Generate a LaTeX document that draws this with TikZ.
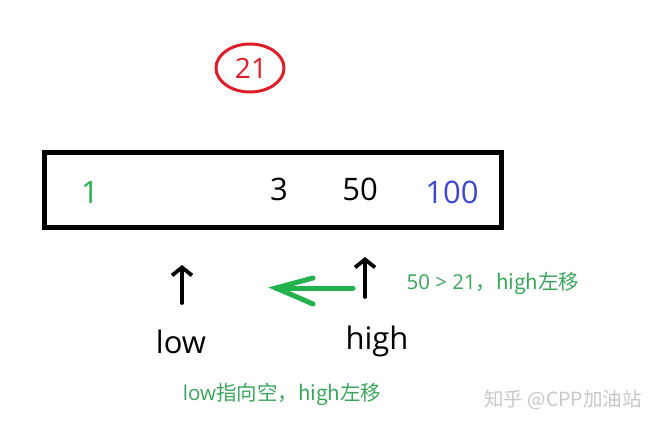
\documentclass[tikz,border=0pt]{standalone}
\usepackage{fontspec}
\setmainfont{Open Sans}
\newfontfamily\cjk{Noto Sans CJK SC}
\usetikzlibrary{arrows.meta,shapes.geometric}
\definecolor{boxgreen}{RGB}{34,177,76}
\definecolor{txtgreen}{RGB}{58,166,90}
\definecolor{myblue}{RGB}{63,72,204}
\definecolor{myred}{RGB}{222,30,40}
\definecolor{wmgray}{RGB}{200,200,200}
\begin{document}
\begin{tikzpicture}[x=1pt,y=-1pt,
  num/.style={font=\fontsize{31}{32}\selectfont, inner sep=0pt},
  lbl/.style={font=\fontsize{31}{32}\selectfont, inner sep=0pt},
  note/.style={font=\fontsize{20.5}{22}\selectfont, text=txtgreen, inner sep=0pt},
  ptr/.style={line width=3.8pt, line cap=round, -{Straight Barb[length=8pt,width=20pt,line width=3.8pt]}},
  move/.style={line width=5pt, line cap=round, draw=boxgreen}]
\useasboundingbox (0,0) rectangle (659,428);
\fill[white] (0,0) rectangle (659,428);
% array box
\node[draw, line width=5pt, minimum width=457pt, minimum height=75pt, inner sep=0pt] (arr) at (272.5,189.5) {};
\node[num, text=boxgreen] (n1) at (90,192) {1};
\node[num] (n3) at (279,189) {3};
\node[num] (n50) at (360,189) {50};
\node[num, text=myblue] (n100) at (452,192) {100};
% target
\node[draw=myred, line width=3pt, ellipse, minimum width=68pt, minimum height=48pt, inner sep=0pt] (tgt) at (250,68) {};
\node[font=\fontsize{28}{29}\selectfont, text=myred, inner sep=0pt] (t21) at (251,68) {21};
% pointers
\coordinate (lowB) at (182,303);
\coordinate (lowT) at (182,265);
\coordinate (highB) at (365,297);
\coordinate (highT) at (365,257);
\draw[ptr] (lowB) -- (lowT);
\draw[ptr] (highB) -- (highT);
\node[lbl] (low) at (181,342) {low};
\node[lbl] (high) at (377,341) {high};
% green move arrow
\coordinate (gS) at (353,288);
\coordinate (gT) at (276,288);
\coordinate (gU) at (313,278);
\coordinate (gL) at (313,304);
\draw[move] (gS) -- (gT);
\draw[move] (gU) -- (gT) -- (gL);
% notes
\node[note] (note1) at (493,283) {50 > 21\cjk{，}high\cjk{左移}};
\node[note] (note2) at (282,394) {low\cjk{指向空，}high\cjk{左移}};
\node[font=\fontsize{19.5}{20}\selectfont, text=wmgray, inner sep=0pt] (wm) at (563,400) {\cjk{知乎} @CPP\cjk{加油站}};
\end{tikzpicture}
\end{document}
